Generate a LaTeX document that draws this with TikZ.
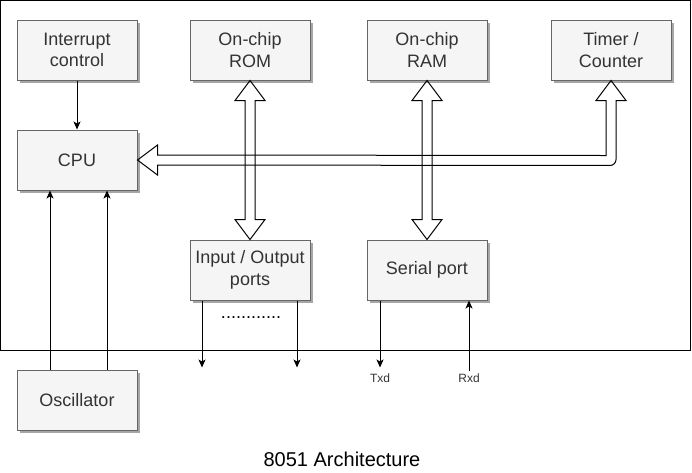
\documentclass[tikz,border=0pt]{standalone}
\usepackage{fontspec}
\setmainfont{Liberation Sans}
\usetikzlibrary{calc,arrows.meta,shadows}
\definecolor{boxfill}{HTML}{F5F5F5}
\definecolor{boxline}{HTML}{666666}
\definecolor{boxtext}{HTML}{333333}
\tikzset{
  box/.style={draw=boxline, fill=boxfill, line width=1pt, minimum width=120pt, minimum height=60pt,
    inner sep=0pt, align=center, text=boxtext, font=\fontsize{18}{21.6}\selectfont,
    drop shadow={shadow xshift=3pt, shadow yshift=-3pt, fill=black!35, opacity=1}},
  arr/.style={draw=black, line width=1pt, -{Stealth[length=8pt,width=7pt,inset=2pt]}},
  flat/.style={draw=black, line width=1pt, fill=none, line join=miter},
  lbl/.style={font=\fontsize{12}{14}\selectfont, text=boxtext, inner sep=0pt}
}
\begin{document}
\begin{tikzpicture}[x=1pt,y=-1pt]
\useasboundingbox (0,0) rectangle (692,472);
\fill[white] (0,0) rectangle (692,472);
\draw[black, line width=1pt] (0.5,0.5) rectangle (690,350);

\node[box] (intr) at (77,50) {Interrupt\\control};
\node[box] (rom) at (250,50) {On-chip\\ROM};
\node[box] (ram) at (427,50) {On-chip\\RAM};
\node[box] (timer) at (611,50) {Timer /\\Counter};
\node[box] (cpu) at (77,160) {CPU};
\node[box] (io) at (250,270) {Input / Output\\ports};
\node[box] (serial) at (427,270) {Serial port};
\node[box] (osc) at (77,400) {Oscillator};

\node[anchor=base, font=\fontsize{20}{24}\selectfont, inner sep=0pt] (title) at (342,466) {8051 Architecture};
\node[anchor=base, font=\fontsize{18}{21.6}\selectfont, inner sep=0pt] (dots) at (251,318) {............};

% simple arrows
\draw[arr] (intr) -- (cpu);
\draw[arr] ([xshift=-27pt]osc.north) -- ([xshift=-27pt]cpu.south);
\draw[arr] ([xshift=30pt]osc.north) -- ([xshift=30pt]cpu.south);
\draw[arr] ([xshift=-48pt]io.south) -- ++(0,67) coordinate (p1);
\draw[arr] ([xshift=47pt]io.south) -- ++(0,67) coordinate (p2);
\draw[arr] ([xshift=-47pt]serial.south) -- ++(0,67) coordinate (txd);
\coordinate (rxd) at ($(serial.south)+(42,70)$);
\draw[arr] (rxd) -- ([xshift=42pt]serial.south);
\node[lbl, anchor=north] (txdl) at ($(txd)+(0,6)$) {Txd};
\node[lbl, anchor=north] (rxdl) at ($(rxd)+(0,3)$) {Rxd};

% flat double arrows
\draw[flat] (rom.south) -- ++(15,20) -- ++(-10,0) -- ($(io.north)+(5,-20)$) -- ++(10,0) -- (io.north)
  -- ++(-15,-20) -- ++(10,0) -- ($(rom.south)+(-5,20)$) -- ++(-10,0) -- cycle;
\draw[flat] (ram.south) -- ++(15,20) -- ++(-10,0) -- ($(serial.north)+(5,-20)$) -- ++(10,0) -- (serial.north)
  -- ++(-15,-20) -- ++(10,0) -- ($(ram.south)+(-5,20)$) -- ++(-10,0) -- cycle;
\draw[flat] (cpu.east) -- ++(20,-15) -- ++(0,10) -- ($(timer.south)+(-5,75)$) -- ($(timer.south)+(-5,20)$)
  -- ++(-10,0) -- (timer.south) -- ++(15,20) -- ++(-10,0)
  [rounded corners=6pt] -- ($(timer.south)+(5,85)$) [sharp corners] -- ($(cpu.east)+(20,5)$) -- ++(0,10) -- cycle;
\end{tikzpicture}
\end{document}
